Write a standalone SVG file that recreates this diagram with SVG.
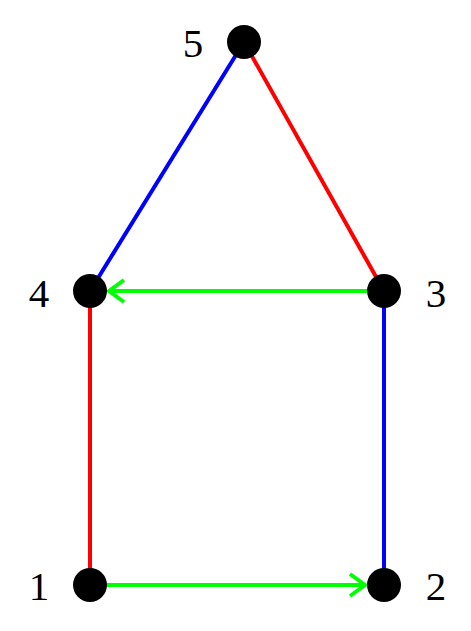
<svg xmlns="http://www.w3.org/2000/svg" width="471" height="631" viewBox="0 0 471 631">
<style>
.e{stroke-width:4;fill:none}
.n{fill:#000}
.l{font-family:"Liberation Serif","DejaVu Serif",serif;font-size:41px;fill:#000;text-anchor:middle}
</style>
<defs>
<marker id="ah" markerUnits="userSpaceOnUse" markerWidth="30" markerHeight="30" viewBox="-20 -15 24 30" refX="0" refY="0" orient="auto" overflow="visible">
<path d="M -15 -11 L 0 0 L -15 11" fill="none" stroke="#00ff00" stroke-width="4"/>
</marker>
</defs>
<rect width="471" height="631" fill="#fff"/>
<g id="connectors">
<line class="e" x1="244" y1="42" x2="90" y2="291" stroke="#0000ff"/>
<line class="e" x1="244" y1="42" x2="384" y2="291" stroke="#ff0000"/>
<line class="e" x1="90" y1="291" x2="90" y2="585" stroke="#ff0000"/>
<line class="e" x1="384" y1="291" x2="384" y2="585" stroke="#0000ff"/>
<line class="e" x1="367" y1="291" x2="109" y2="291" stroke="#00ff00" marker-end="url(#ah)"/>
<line class="e" x1="107" y1="585" x2="365" y2="585" stroke="#00ff00" marker-end="url(#ah)"/>
</g>
<g id="node1"><circle class="n" cx="90" cy="585" r="17"/><text class="l" x="39" y="600">1</text></g>
<g id="node2"><circle class="n" cx="384" cy="585" r="17"/><text class="l" x="436" y="600">2</text></g>
<g id="node3"><circle class="n" cx="384" cy="291" r="17"/><text class="l" x="436" y="307">3</text></g>
<g id="node4"><circle class="n" cx="90" cy="291" r="17"/><text class="l" x="39" y="307">4</text></g>
<g id="node5"><circle class="n" cx="244" cy="42" r="17"/><text class="l" x="193" y="57">5</text></g>
</svg>
